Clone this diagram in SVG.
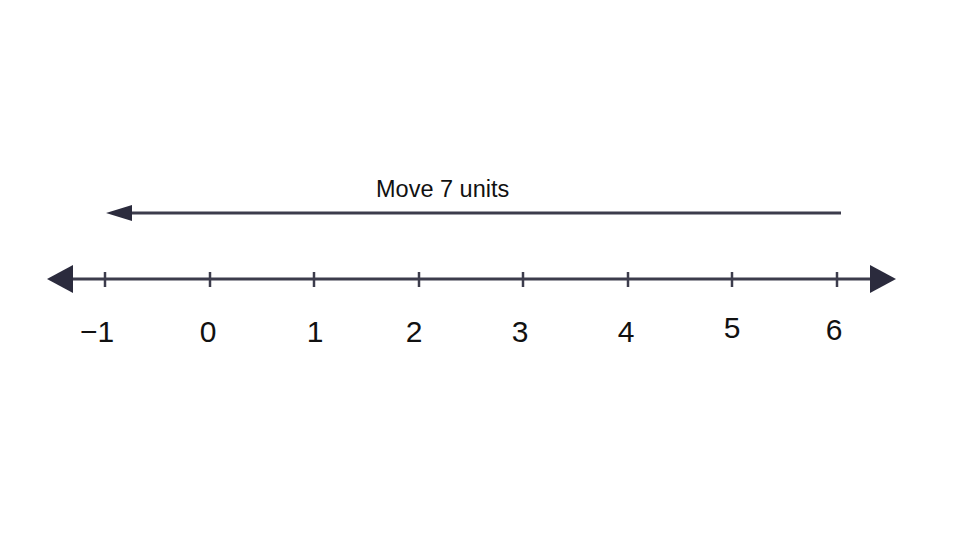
<svg xmlns="http://www.w3.org/2000/svg" width="954" height="548" viewBox="0 0 954 548">
<style>
.ln{stroke:#3c3c4c;stroke-width:3;fill:none}
.tk{stroke:#3c3c4c;stroke-width:2.5}
.ah{fill:#2b2b3d}
.num{font-family:"Liberation Sans",Arial,sans-serif;font-size:30px;fill:#111;text-anchor:middle}
.lbl{font-family:"Liberation Sans",Arial,sans-serif;font-size:23.5px;fill:#111}
</style>
<rect width="954" height="548" fill="#fff"/>
<g id="connectors">
<g id="axis">
<line class="ln" x1="70" y1="279" x2="874" y2="279"/>
<polygon class="ah" points="47,279 73,265 73,293"/>
<polygon class="ah" points="896,279 870,265 870,293"/>
</g>
<g id="move-arrow">
<line class="ln" x1="128" y1="213" x2="841" y2="213"/>
<polygon class="ah" points="106,213 132,205 132,221"/>
</g>
</g>
<g id="ticks">
<line class="tk" x1="105" y1="272" x2="105" y2="287"/>
<line class="tk" x1="210" y1="272" x2="210" y2="287"/>
<line class="tk" x1="314" y1="272" x2="314" y2="287"/>
<line class="tk" x1="419" y1="272" x2="419" y2="287"/>
<line class="tk" x1="523" y1="272" x2="523" y2="287"/>
<line class="tk" x1="628" y1="272" x2="628" y2="287"/>
<line class="tk" x1="732" y1="272" x2="732" y2="287"/>
<line class="tk" x1="837" y1="272" x2="837" y2="287"/>
</g>
<g id="labels">
<text class="num" x="97" y="342">−1</text>
<text class="num" x="208" y="342">0</text>
<text class="num" x="315" y="342">1</text>
<text class="num" x="414" y="342">2</text>
<text class="num" x="520" y="342">3</text>
<text class="num" x="626" y="342">4</text>
<text class="num" x="732" y="338">5</text>
<text class="num" x="834" y="340">6</text>
</g>
<g id="move-label">
<text class="lbl" x="376" y="197">Move 7 units</text>
</g>
</svg>
